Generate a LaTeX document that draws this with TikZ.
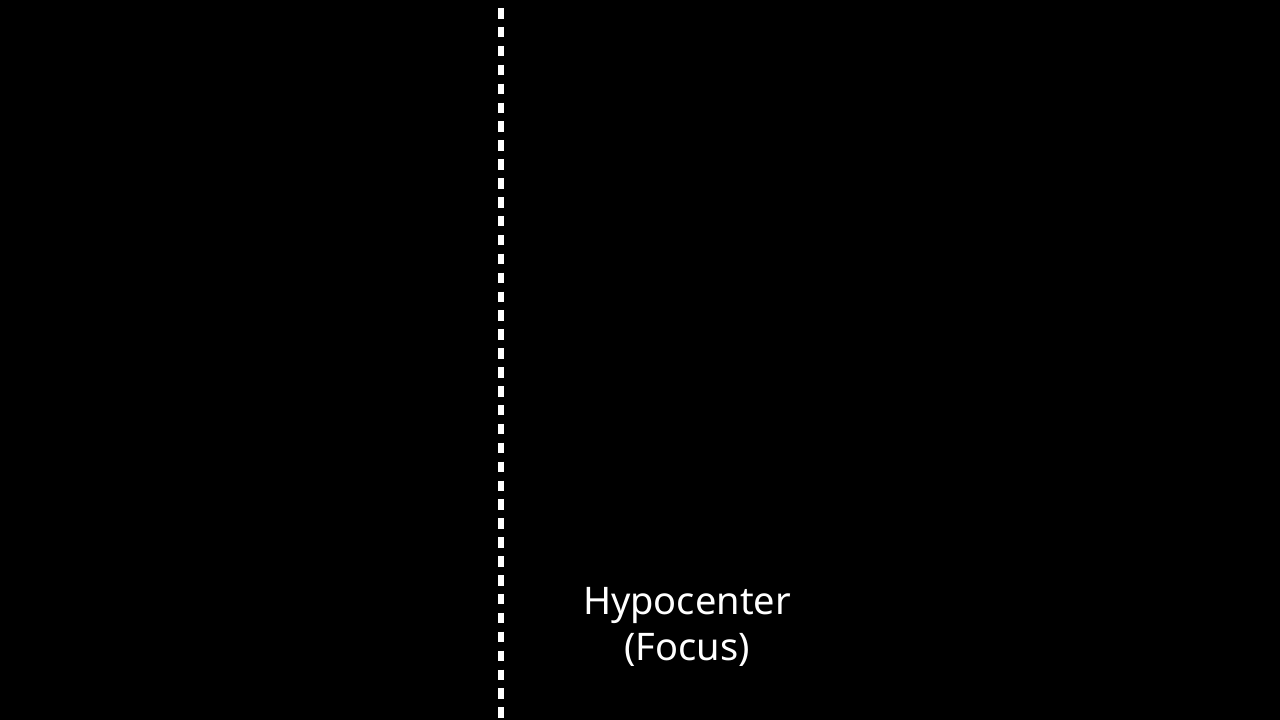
\documentclass[tikz,border=0pt]{standalone}
\usepackage{fontspec}
\setmainfont{Noto Sans}
\begin{document}
\begin{tikzpicture}[x=1pt,y=-1pt,
  axisline/.style={white, line width=6pt, dash pattern=on 10.5pt off 8.4pt},
  label/.style={white, align=center, font=\fontsize{38}{46}\selectfont, inner sep=0pt}]
\fill[black] (0,0) rectangle (1280,720);
\useasboundingbox (0,0) rectangle (1280,720);
\coordinate (top) at (501,8);
\coordinate (bot) at (501,720);
\draw[axisline] (top) -- (bot);
\node[label, anchor=base] (hypo) at (687,660) {Hypocenter\\(Focus)};
\end{tikzpicture}
\end{document}
